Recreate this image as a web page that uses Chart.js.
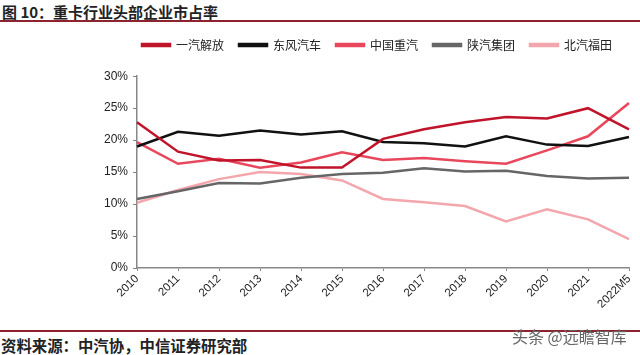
<!DOCTYPE html>
<html><head><meta charset="utf-8">
<script src="https://cdn.jsdelivr.net/npm/chart.js@4.4.0/dist/chart.umd.min.js"></script>
<style>
html,body{margin:0;padding:0;background:#fff;width:640px;height:355px;overflow:hidden;font-family:"Liberation Sans","Noto Sans CJK SC",sans-serif;}
#title{position:absolute;left:2px;top:1px;font-size:15px;font-weight:bold;color:#222;font-family:"Noto Sans CJK SC",sans-serif;}
#tline{position:absolute;left:0;top:20px;width:640px;height:2px;background:#8e2330;}
#fline{position:absolute;left:0;top:330px;width:640px;height:2px;background:#8e2330;}
#src{position:absolute;left:1px;top:334px;font-size:15.4px;font-weight:bold;color:#222;font-family:"Noto Sans CJK SC",sans-serif;}
#wm{position:absolute;left:512px;top:324px;font-size:16px;color:#666;font-family:"Noto Sans CJK SC",sans-serif;}
#wrap{position:absolute;left:0;top:24px;width:640px;height:306px;}
</style></head>
<body>
<div id="title">图 10：重卡行业头部企业市占率</div>
<div id="tline"></div>
<div id="wrap"><canvas id="c"></canvas></div>
<div id="fline"></div>
<div id="src">资料来源：中汽协，中信证券研究部</div>
<div id="wm">头条 @远瞻智库</div>
<script>
const categories = ["2010","2011","2012","2013","2014","2015","2016","2017","2018","2019","2020","2021","2022M5"];
const faw      = [22.8,18.2,16.8,16.9,15.7,15.7,20.2,21.7,22.8,23.6,23.4,25.0,21.7];
const dongfeng = [19.0,21.3,20.7,21.5,20.9,21.4,19.7,19.5,19.0,20.6,19.3,19.1,20.5];
const sinotruk = [19.7,16.3,17.1,15.7,16.5,18.1,16.9,17.2,16.7,16.3,18.4,20.6,25.8];
const shacman  = [10.8,12.0,13.3,13.2,14.1,14.7,14.9,15.6,15.1,15.2,14.4,14.0,14.1];
const foton    = [10.2,12.2,13.9,15.0,14.7,13.7,10.8,10.3,9.7,7.3,9.2,7.6,4.5];
const seriesNames = ["一汽解放","东风汽车","中国重汽","陕汽集团","北汽福田"];
const yTicks = [0,5,10,15,20,25,30];

const colors = ["#c0142b","#111111","#e8475c","#666666","#f4a6ad"];
const data = [faw,dongfeng,sinotruk,shacman,foton];
const shiftLegend = {id:'shiftLegend', afterLayout(chart){ if(chart.legend){ chart.legend.left += 11; chart.legend.right += 11; } }};
new Chart(document.getElementById('c'),{
  type:'line',
  data:{labels:categories,datasets:seriesNames.map((n,i)=>({label:n,data:data[i],borderColor:colors[i],backgroundColor:colors[i],borderWidth:2.5,pointRadius:0,tension:0,fill:false}))},
  options:{
    responsive:true,maintainAspectRatio:false,animation:false,
    layout:{padding:{left:103,right:11,top:0,bottom:0}},
    plugins:{
      legend:{position:'top',labels:{boxWidth:28,boxHeight:2,padding:15,color:'#222',font:{size:12,family:"'Noto Sans CJK SC', sans-serif"}}},
      title:{display:true,text:'',weight:500,position:'top',font:{size:1},padding:{top:0,bottom:14}},
      tooltip:{enabled:false}
    },
    scales:{
      x:{offset:false,
        grid:{display:true,drawOnChartArea:false,drawTicks:true,tickLength:3,color:'#888'},
        border:{color:'#888',width:1.5},
        ticks:{minRotation:45,maxRotation:45,autoSkip:false,color:'#222',font:{size:11.5,family:"'Liberation Sans', Arial"},padding:1},
        afterFit:(s)=>{s.height=62;}
      },
      y:{min:0,max:30,
        afterBuildTicks:(s)=>{s.ticks=yTicks.map(v=>({value:v}));},
        grid:{display:true,drawOnChartArea:false,drawTicks:true,tickLength:4,color:'#888'},
        border:{color:'#888',width:1.5},
        ticks:{color:'#222',font:{size:12,family:"'Liberation Sans', Arial"},padding:5,callback:(v)=>v+'%'},
        afterFit:(s)=>{s.width=34;}
      }
    }
  },
  plugins:[shiftLegend]
});
</script>
</body></html>
